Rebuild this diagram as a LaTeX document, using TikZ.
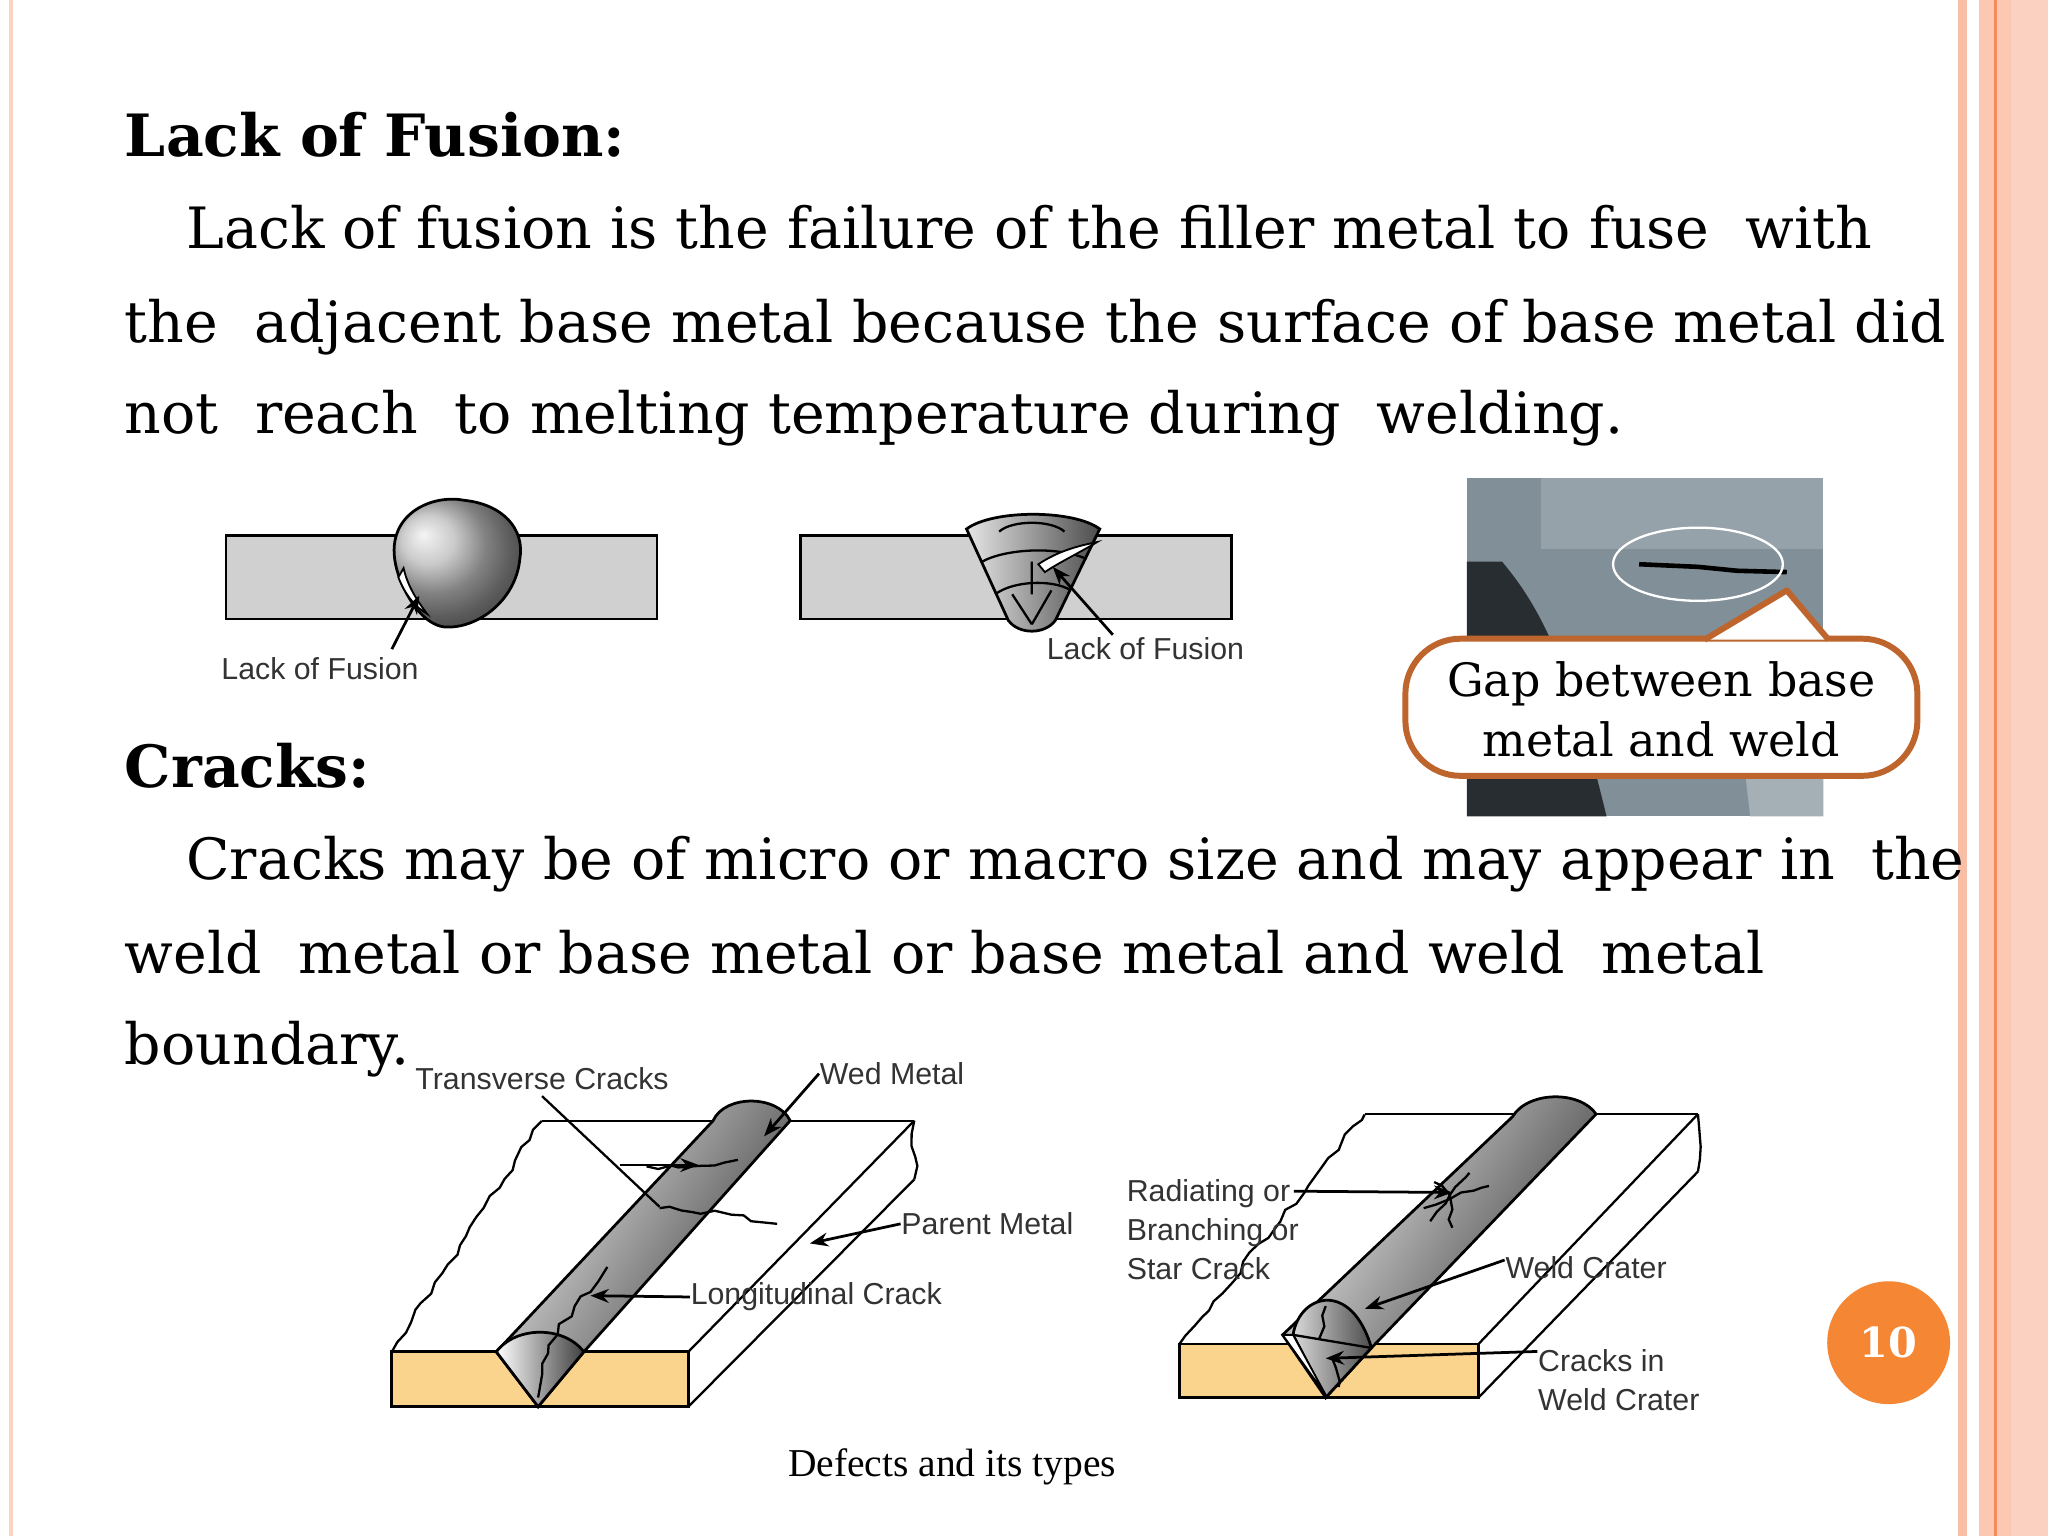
\documentclass[tikz,border=0pt]{standalone}
\usepackage{fontspec}
\setmainfont{DejaVu Serif}
\newfontfamily\lserif{Liberation Serif}
\newfontfamily\lsans{Liberation Sans}
\usetikzlibrary{decorations.pathmorphing,shadings,arrows.meta}
\definecolor{salmon}{RGB}{252,200,178}
\definecolor{salmonb}{RGB}{249,190,166}
\definecolor{orangeline}{RGB}{242,140,90}
\definecolor{pagecirc}{RGB}{245,134,52}
\definecolor{calloutc}{RGB}{190,100,45}
\definecolor{weldyellow}{RGB}{250,212,140}
\definecolor{slabgray}{RGB}{208,208,208}
\tikzset{
  bodytxt/.style={anchor=base west,inner sep=0pt,font=\fontsize{12.4}{16}\selectfont},
  titletxt/.style={anchor=base west,inner sep=0pt,font=\fontsize{12.7}{16}\selectfont\bfseries},
  lbl/.style={inner sep=0pt,font=\lsans\fontsize{6.6}{7.8}\selectfont,text=black!80},
  lblL/.style={lbl,anchor=base west},
  jag/.style={decorate,decoration={random steps,segment length=2.5pt,amplitude=0.7pt}},
  edge/.style={draw=black,line width=0.5pt},
  ptr/.style={draw=black,line width=0.6pt,-{Stealth[length=4pt,width=3pt]}},
  beadshade/.style={left color=gray!15,right color=black!80,shading angle=57},
}
\begin{document}
\begin{tikzpicture}[x=0.01cm,y=-0.01cm]
\pgfmathsetseed{7}
\useasboundingbox (0,0) rectangle (1568,1176);
\fill[white] (0,0) rectangle (1568,1176);
% borders
\fill[salmon!80] (7,0) rectangle (10,1176);
\fill[salmonb] (1499,0) rectangle (1506,1176);
\fill[salmon] (1515,0) rectangle (1568,1176);
\fill[orangeline] (1527,0) rectangle (1529,1176);
\fill[salmonb!70] (1540,0) rectangle (1568,1176);

% texts
\node[titletxt] (t1) at (95,120) {Lack of Fusion:};
\node[bodytxt] (l1) at (142,190) {Lack of fusion is the failure of the filler metal to fuse\ \ with};
\node[bodytxt] (l2) at (95,262) {the\ \ adjacent base metal because the surface of base metal did};
\node[bodytxt] (l3) at (95,332) {not\ \ reach\ \ to melting temperature during\ \ welding.};
\node[titletxt] (t2) at (95,603) {Cracks:};
\node[bodytxt] (c1) at (142,673) {Cracks may be of micro or macro size and may appear in\ \ the};
\node[bodytxt] (c2) at (95,745) {weld\ \ metal or base metal or base metal and weld\ \ metal};
\node[bodytxt] (c3) at (95,815) {boundary.};
\node[inner sep=0pt,font=\lserif\fontsize{8.6}{9}\selectfont] (cap) at (729,1123) {Defects and its types};

% page number
\node[circle,fill=pagecirc,minimum size=0.94cm,inner sep=0pt,text=white,font=\fontsize{9}{10}\selectfont\bfseries] (pg) at (1446,1028) {10};

% ---------- top diagram 1
\fill[slabgray,draw=black,line width=0.6pt] (173,410) rectangle (503,474);
\shade[ball color=gray!55,draw=black,line width=0.6pt] (305,440) .. controls (290,395) and (330,378) .. (355,383) .. controls (385,386) and (402,405) .. (398,428) .. controls (395,460) and (365,482) .. (340,480) .. controls (325,478) and (312,460) .. (305,440) -- cycle;
\fill[white,draw=black,line width=0.4pt] (305,442) .. controls (310,455) and (318,465) .. (327,470) .. controls (318,458) and (312,448) .. (309,435) -- cycle;
\node[lbl] (lf1) at (245,512) {Lack of Fusion};
\coordinate (lf1a) at (300,497);
\coordinate (lf1b) at (321,456);
\draw[ptr] (lf1a) -- (lf1b);

% ---------- top diagram 2
\fill[slabgray,draw=black,line width=0.6pt] (613,410) rectangle (943,474);
\shade[left color=gray!20,right color=black!70,draw=black,line width=0.6pt] (740,405) .. controls (760,390) and (822,390) .. (842,405) -- (808,475) .. controls (800,486) and (780,486) .. (772,475) -- cycle;
\draw[black,line width=0.5pt] (752,430) .. controls (770,420) and (810,418) .. (832,428);
\draw[black,line width=0.5pt] (762,455) .. controls (775,445) and (805,443) .. (820,452);
\draw[black,line width=0.5pt] (790,430) -- (790,455) (775,455) -- (790,478) (805,452) -- (790,478);
\draw[black,line width=0.5pt] (765,407) .. controls (775,398) and (805,398) .. (815,407);
\fill[white,draw=black,line width=0.4pt] (795,432) .. controls (810,422) and (825,418) .. (840,415) .. controls (825,424) and (812,430) .. (800,438) -- cycle;
\node[lbl] (lf2) at (877,497) {Lack of Fusion};
\coordinate (lf2a) at (852,486);
\coordinate (lf2b) at (806,434);
\draw[ptr] (lf2a) -- (lf2b);

% ---------- photo
\fill[color={rgb,255:red,128;green,143;blue,152}] (1123,366) rectangle (1396,625);
\fill[color={rgb,255:red,150;green,162;blue,170}] (1180,366) rectangle (1396,420);
\fill[color={rgb,255:red,40;green,45;blue,50}] (1123,430) -- (1150,430) .. controls (1175,460) and (1200,500) .. (1230,625) -- (1123,625) -- cycle;
\fill[color={rgb,255:red,165;green,175;blue,182}] (1330,540) -- (1396,500) -- (1396,625) -- (1340,625) -- cycle;
\draw[black,line width=1pt] (1255,432) -- (1300,434) -- (1330,437) -- (1368,438);
\draw[white,line width=0.5pt] (1300,432) ellipse [x radius=65,y radius=28];
\draw[fill=white,draw=calloutc,line width=1.3pt,rounded corners=12] (1076,489) rectangle (1468,594);
\fill[white,draw=calloutc,line width=1.3pt,line join=round] (1305,489.8) -- (1368,452) -- (1400,489.8);
\fill[white] (1308,491.5) rectangle (1397,494);
\node[inner sep=0pt,align=center,font=\fontsize{10}{13.2}\selectfont] (gap) at (1272,543) {Gap between base\\metal and weld};

% ---------- bottom diagram 1
\fill[weldyellow,draw=black,line width=0.6pt] (300,1035) rectangle (527,1077);
\draw[edge] (300,1035) -- (527,1035);
\draw[edge,jag] (300,1035) -- (415,858);
\draw[edge] (415,858) -- (700,858);
\draw[edge] (527,1035) -- (700,858);
\draw[edge] (527,1077) -- (700,903);
\draw[edge,jag] (700,858) -- (700,903);
\shade[beadshade,draw=black,line width=0.6pt] (380,1035) -- (546,858) .. controls (555,838) and (595,838) .. (605,858) -- (447,1035) -- (412,1077) -- cycle;
\shade[left color=white,right color=gray!50!black,draw=black,line width=0.6pt] (380,1035) .. controls (395,1015) and (432,1015) .. (447,1035) -- (412,1077) -- cycle;
\draw[black,line width=0.5pt,jag] (412,1070) -- (420,1030) -- (440,1000) -- (465,970);
\draw[black,line width=0.5pt,jag] (505,925) -- (530,928) -- (560,930) -- (575,935) -- (595,937);
\draw[black,line width=0.5pt,jag] (495,893) -- (530,893) -- (565,888);
\node[lbl] (tc) at (415,826) {Transverse Cracks};
\node[lbl] (wm) at (683,822) {Wed Metal};
\node[lbl] (pm) at (756,937) {Parent Metal};
\node[lbl] (lc) at (625,993) {Longitudinal Crack};
\coordinate (tcp) at (505,924);
\coordinate (tcs) at (475,892);
\coordinate (tce) at (535,892);
\draw[edge] (tc.south) ++(0,4) -- (tcp);
\draw[ptr] (tcs) -- (tce);
\draw[ptr] (wm.west) -- (585,870);
\draw[ptr] (pm.west) -- (620,952);
\draw[ptr] (lc.west) -- (452,992);

% ---------- bottom diagram 2
\fill[weldyellow,draw=black,line width=0.6pt] (903,1029) rectangle (1132,1070);
\draw[edge] (903,1029) -- (1132,1029);
\draw[edge,jag] (903,1029) -- (1045,853);
\draw[edge] (1045,853) -- (1300,853);
\draw[edge] (1132,1029) -- (1300,853);
\draw[edge] (1132,1070) -- (1300,897);
\draw[edge,jag] (1300,853) -- (1300,897);
\shade[beadshade,draw=black,line width=0.6pt] (982,1022) -- (1158,855) .. controls (1170,835) and (1210,835) .. (1222,853) -- (1050,1032) -- (1015,1070) -- cycle;
\shade[left color=gray!30,right color=black!70,draw=black,line width=0.6pt] (990,1022) .. controls (995,990) and (1035,980) .. (1050,1032) -- (1015,1070) -- cycle;
\draw[black,line width=0.5pt] (990,1022) -- (1050,1032);
\fill[white,draw=black,line width=0.4pt] (982,1022) -- (990,1022) -- (1015,1068) -- cycle;
\draw[black,line width=0.5pt,jag] (1095,935) -- (1110,915) -- (1125,898);
\draw[black,line width=0.5pt,jag] (1090,925) -- (1110,918) -- (1140,908);
\draw[black,line width=0.5pt,jag] (1110,915) -- (1112,940) (1110,915) -- (1098,905);
\draw[black,line width=0.5pt,jag] (1015,1000) -- (1010,1025) (1020,1040) -- (1025,1062);
\node[lblL] (rs1) at (862,920) {Radiating or};
\node[lblL] (rs2) at (862,950) {Branching or};
\node[lblL] (rs3) at (862,980) {Star Crack};
\node[lblL] (wc) at (1152,979) {Weld Crater};
\node[lblL] (ci1) at (1177,1050) {Cracks in};
\node[lblL] (ci2) at (1177,1080) {Weld Crater};
\draw[ptr] (rs1.east) ++(2,-2) -- (1112,913);
\draw[ptr] (wc.west) ++(0,-6) -- (1045,1002);
\draw[ptr] (ci1.west) ++(0,-7) -- (1015,1040);
\end{tikzpicture}
\end{document}
